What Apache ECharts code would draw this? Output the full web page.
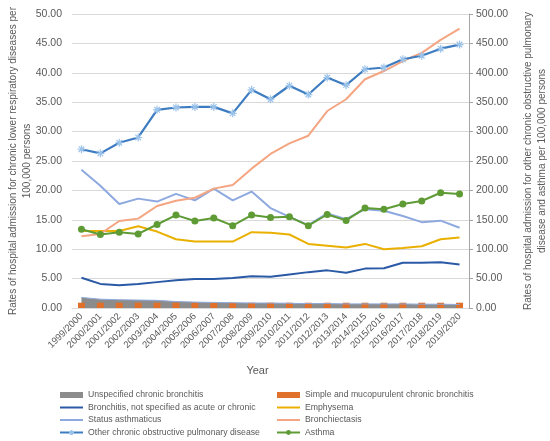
<!DOCTYPE html>
<html lang="en">
<head>
    <meta charset="UTF-8">
    <title>Hospital admissions - chronic lower respiratory diseases</title>
    <style type="text/css">
        body, html{width: 100%;height: 100%;margin:0;background:#fff;}
        #main {width: 550px; height: 441px;}
    </style>
    <script src="https://cdn.jsdelivr.net/npm/echarts/dist/echarts.min.js"></script>
</head>
<body>
<div id="main"></div>
<script type="text/javascript">
    // data
    var years = ['1999/2000','2000/2001','2001/2002','2002/2003','2003/2004','2004/2005','2005/2006',
        '2006/2007','2007/2008','2008/2009','2009/2010','2010/2011','2011/2012','2012/2013',
        '2013/2014','2014/2015','2015/2016','2016/2017','2017/2018','2018/2019','2019/2020'];

    // left axis (per 100,000)
    var unspecified = [1.8,1.5,1.4,1.35,1.3,1.1,1.0,0.95,0.9,0.85,0.85,0.8,0.75,0.75,0.7,0.7,0.7,0.7,0.65,0.65,0.6];
    var simpleMuco = [0.9,0.9,0.9,0.9,0.9,0.9,0.9,0.9,0.9,0.9,0.9,0.9,0.9,0.9,0.9,0.9,0.9,0.9,0.9,0.9,0.9];
    var bronchitis = [5.15,4.1,3.85,4.1,4.4,4.7,4.95,4.95,5.1,5.4,5.3,5.7,6.1,6.4,6.0,6.7,6.75,7.7,7.7,7.8,7.4];
    var emphysema = [13.1,13.1,13.1,13.9,13.0,11.7,11.3,11.3,11.3,12.9,12.8,12.5,10.9,10.6,10.3,10.9,10.0,10.2,10.5,11.7,12.0];
    var statusAsth = [23.5,20.8,17.7,18.6,18.1,19.4,18.3,20.3,18.3,19.8,17.0,15.5,14.1,16.1,15.1,16.8,16.55,15.65,14.6,14.85,13.65];
    var bronchiectasis = [12.2,12.6,14.8,15.2,17.35,18.25,18.75,20.3,20.9,23.7,26.2,28.0,29.3,33.5,35.5,38.9,40.3,42.0,43.4,45.6,47.5];

    // right axis
    var otherCopd = [270,263,281,290,337,341,342,342,331,371,355,378,363,392,379,406,409,423,429,441,448];
    var asthma = [134,125,129,126,142,158,148,153,140,158,154,155,140,159,149,170,168,177,182,196,194];

    var leftTicks = {min: 0, max: 50, interval: 5};
    var rightTicks = {min: 0, max: 500, interval: 50};

    var txt = '#595959';
    var font = "'Liberation Sans', sans-serif";
    var star = 'path://M5,0L5,10M0,5L10,5M1.5,1.5L8.5,8.5M8.5,1.5L1.5,8.5';

    var chart = echarts.init(document.getElementById('main'));

    var legendText = {color: txt, fontSize: 8.7, fontFamily: font, lineHeight: 12};
    var noDot = {opacity: 0};

    var option = {
        animation: false,
        textStyle: {fontFamily: font},
        grid: {left: 72, right: 81, top: 14, bottom: 133, containLabel: false, outerBoundsMode: 'none'},
        legend: [{
            orient: 'vertical', left: 59, top: 389, height: 60, padding: 0,
            itemWidth: 23, itemHeight: 6, itemGap: 0.5,
            textStyle: legendText,
            data: [
                {name: 'Unspecified chronic bronchitis', icon: 'rect'},
                {name: 'Bronchitis, not specified as acute or chronic', itemStyle: noDot},
                {name: 'Status asthmaticus', itemStyle: noDot},
                'Other chronic obstructive pulmonary disease'
            ]
        }, {
            orient: 'vertical', left: 276, top: 389, height: 60, padding: 0,
            itemWidth: 23, itemHeight: 6, itemGap: 0.5,
            textStyle: legendText,
            data: [
                {name: 'Simple and mucopurulent chronic bronchitis', icon: 'rect'},
                {name: 'Emphysema', itemStyle: noDot},
                {name: 'Bronchiectasis', itemStyle: noDot},
                'Asthma'
            ]
        }],
        xAxis: {
            type: 'category',
            data: years,
            name: 'Year',
            nameLocation: 'middle',
            nameGap: 57,
            nameTextStyle: {color: txt, fontSize: 11, padding: [0, 26, 0, 0]},
            axisLine: {lineStyle: {color: '#d9d9d9'}},
            axisTick: {show: false},
            axisLabel: {rotate: 45, color: txt, fontSize: 9.5, interval: 0, margin: 7}
        },
        yAxis: [{
            type: 'value',
            min: leftTicks.min, max: leftTicks.max, interval: leftTicks.interval,
            name: 'Rates of hospital admission for chronic lower respiratory diseases per\n100,000 persons',
            nameLocation: 'middle',
            nameRotate: 90,
            nameGap: 38,
            nameMoveOverlap: false,
            nameTextStyle: {color: txt, fontSize: 10, lineHeight: 14},
            axisLine: {show: false},
            axisTick: {show: false},
            axisLabel: {color: txt, fontSize: 10.5, margin: 10, formatter: function (v) { return v.toFixed(2); }},
            splitLine: {lineStyle: {color: '#d9d9d9'}}
        }, {
            type: 'value',
            min: rightTicks.min, max: rightTicks.max, interval: rightTicks.interval,
            name: 'Rates of hospital admission for other chronic obstructive pulmonary\ndisease and asthma per 100,000 persons',
            nameLocation: 'middle',
            nameRotate: 90,
            nameGap: 52,
            nameTextStyle: {color: txt, fontSize: 10, lineHeight: 14},
            axisLine: {show: true, lineStyle: {color: '#a6a6a6'}},
            axisTick: {show: true, length: 4, lineStyle: {color: '#a6a6a6'}},
            axisLabel: {color: txt, fontSize: 10.5, margin: 7, formatter: function (v) { return v.toFixed(2); }},
            splitLine: {show: false}
        }],
        series: [{
            name: 'Unspecified chronic bronchitis',
            type: 'line',
            data: unspecified,
            symbol: 'none',
            color: '#8c8c8c',
            lineStyle: {color: '#8ea9db', width: 1},
            areaStyle: {color: '#8c8c8c', opacity: 1}
        }, {
            name: 'Simple and mucopurulent chronic bronchitis',
            type: 'bar',
            data: simpleMuco,
            barWidth: 7,
            z: 3,
            color: '#e0702a'
        }, {
            name: 'Bronchitis, not specified as acute or chronic',
            type: 'line',
            data: bronchitis,
            symbol: 'none',
            color: '#2a5aa6',
            lineStyle: {width: 2}
        }, {
            name: 'Emphysema',
            type: 'line',
            data: emphysema,
            symbol: 'none',
            color: '#eab000',
            lineStyle: {width: 2}
        }, {
            name: 'Status asthmaticus',
            type: 'line',
            data: statusAsth,
            symbol: 'none',
            color: '#8ea9e0',
            lineStyle: {width: 2}
        }, {
            name: 'Bronchiectasis',
            type: 'line',
            data: bronchiectasis,
            symbol: 'none',
            color: '#f4a582',
            lineStyle: {width: 2}
        }, {
            name: 'Other chronic obstructive pulmonary disease',
            type: 'line',
            yAxisIndex: 1,
            data: otherCopd,
            symbol: star,
            symbolSize: 8,
            color: '#3d7cc0',
            lineStyle: {color: '#3d7cc0', width: 2.2},
            itemStyle: {color: '#9cc3ea', borderColor: '#9cc3ea', borderWidth: 1.2}
        }, {
            name: 'Asthma',
            type: 'line',
            yAxisIndex: 1,
            data: asthma,
            symbol: 'circle',
            symbolSize: 7,
            color: '#5f9b35',
            lineStyle: {width: 2}
        }]
    };
    chart.setOption(option);
</script>
</body>
</html>
